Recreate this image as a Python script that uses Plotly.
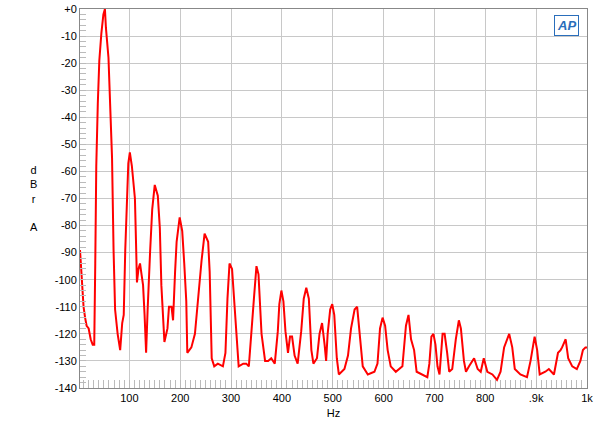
import plotly.graph_objects as go

# spectrum (Hz, dBrA)
freq = [3, 6, 10, 13, 16, 20, 24, 28, 31, 33, 35, 38, 41, 45, 49, 52, 54, 59, 62, 66, 69, 72, 77, 82,
        86, 89, 92, 95, 98, 101, 105, 108, 111, 113, 115, 118, 121, 124, 127, 130, 133, 136, 138, 141,
        145, 150, 156, 160, 163, 167, 169, 175, 178, 183, 186, 190, 193, 199, 204, 208, 212, 214, 222,
        229, 237, 242, 248, 255, 258, 262, 267, 274, 284, 289, 293, 297, 302, 307, 312, 315, 324, 330,
        335, 340, 345, 350, 354, 360, 367, 373, 379, 386, 392, 395, 399, 403, 407, 412, 416, 420, 425,
        431, 438, 443, 448, 453, 458, 462, 469, 474, 479, 484, 487, 490, 495, 499, 503, 508, 512, 523,
        530, 536, 543, 548, 552, 559, 569, 582, 588, 593, 598, 603, 608, 614, 624, 637, 644, 649, 654,
        660, 665, 676, 686, 690, 694, 698, 702, 706, 710, 716, 720, 725, 729, 735, 742, 748, 752, 758,
        762, 768, 778, 785, 791, 797, 804, 814, 823, 830, 837, 847, 853, 858, 869, 882, 889, 897, 902,
        907, 918, 925, 935, 943, 948, 951, 958, 963, 971, 980, 987, 992, 997, 1000]
level = [-89, -100, -110, -114, -117, -118, -122, -124, -124, -94, -58, -35, -19, -9, -2, 0, -7, -18,
         -33, -55, -89, -111, -120, -126, -116, -113, -89, -73, -57, -53, -58, -64, -70, -85, -101,
         -96, -94, -98, -102, -113, -127, -111, -100, -89, -74, -65, -69, -81, -102, -119, -123, -118,
         -110, -110, -115, -97, -86, -77, -82, -94, -108, -127, -125, -120, -103, -93, -83, -86, -97,
         -129, -132, -131, -132, -127, -107, -94, -96, -109, -121, -132, -131, -131, -132, -118, -107,
         -95, -98, -120, -130, -130, -129, -131, -119, -109, -104, -108, -119, -127, -121, -121, -128,
         -131, -119, -107, -103, -107, -126, -131, -129, -120, -116, -124, -130, -120, -111, -109, -113,
         -129, -135, -133, -128, -118, -111, -110, -118, -132, -135, -134, -131, -118, -114, -117, -126,
         -132, -134, -132, -117, -113, -122, -126, -134, -135, -136, -131, -121, -120, -124, -132,
         -135, -120, -120, -127, -134, -133, -122, -115, -118, -130, -134, -132, -129, -133, -134,
         -129, -134, -135, -137, -134, -125, -120, -125, -133, -135, -136, -130, -121, -126, -135,
         -134, -133, -135, -127, -126, -125, -122, -129, -132, -133, -130, -126, -125, -125]

x_ticks = [100, 200, 300, 400, 500, 600, 700, 800, 900, 1000]
x_labels = ["100", "200", "300", "400", "500", "600", "700", "800", ".9k", "1k"]
y_ticks = list(range(0, -141, -10))
y_labels = ["+0"] + [str(v) for v in y_ticks[1:]]

fig = go.Figure()
fig.add_trace(go.Scatter(x=freq, y=level, mode="lines", line=dict(color="#ff0000", width=2), hoverinfo="skip"))

axis_font = dict(family="Arial, Liberation Sans, sans-serif", size=11, color="#000")
fig.update_layout(
    width=600, height=430,
    margin=dict(l=80, r=13, t=9, b=42),
    paper_bgcolor="white", plot_bgcolor="white",
    showlegend=False,
    font=axis_font,
    xaxis=dict(range=[3, 1000], tickvals=x_ticks, ticktext=x_labels, showgrid=True, automargin=False,
               gridcolor="#c8c8c8", gridwidth=1, linecolor="#888", mirror=True, showline=True,
               ticks="inside", ticklen=0, zeroline=False,
               minor=dict(dtick=10, ticks="inside", ticklen=8, tickcolor="#bbb", showgrid=False),
               title=dict(text="Hz", font=axis_font, standoff=6)),
    yaxis=dict(range=[-140, 0], tickvals=y_ticks, ticktext=y_labels, showgrid=True, automargin=False,
               gridcolor="#c8c8c8", gridwidth=1, linecolor="#888", mirror=True, showline=True,
               ticks="inside", ticklen=0, zeroline=False,
               minor=dict(dtick=2, ticks="inside", ticklen=6, tickcolor="#bbb", showgrid=False)),
)

fig.add_annotation(text="d<br>B<br>r<br><br>A", xref="paper", yref="paper", x=-0.09, y=0.5,
                   showarrow=False, font=axis_font, align="center", xanchor="center")
fig.add_annotation(text="<b><i>AP</i></b>", xref="paper", yref="paper", x=0.985, y=0.985,
                   showarrow=False, xanchor="right", yanchor="top",
                   font=dict(family="Arial", size=13, color="#2a6ebb"),
                   bordercolor="#2a6ebb", borderwidth=1, borderpad=2, bgcolor="white")

# drop the default page margin so the figure sits at the window corner
fig.write_html("out.html", config={"displayModeBar": False},
               post_script="document.body.style.margin='0';")
